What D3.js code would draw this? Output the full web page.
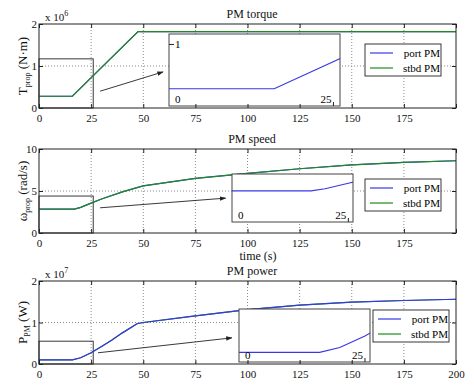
<!DOCTYPE html>
<html>
<head>
<meta charset="utf-8">
<script src="https://cdn.jsdelivr.net/npm/d3@7"></script>
<style>
  body { margin: 0; background: #fff; }
  svg, svg text { font-family: "Liberation Serif", "Times New Roman", serif; }
</style>
</head>
<body>
<svg id="chart" width="474" height="385"></svg>
<script>
// data (port and stbd curves coincide)
const seriesNames = ['port PM', 'stbd PM'];
const seriesColors = ['#3838e6', '#1f8a1f'];

const xTicks = [0, 25, 50, 75, 100, 125, 150, 175, 200];

const torqueTime = [0, 16, 47.5, 200];
const torque = [0.28, 0.28, 1.82, 1.82];          // x 10^6 N·m
const torqueTicks = [0, 1, 2];

const speedTime = [0, 17, 20, 25, 30, 40, 47, 50, 75, 100, 125, 150, 175, 200];
const speed = [2.85, 2.85, 3.05, 3.55, 4.05, 4.9, 5.4, 5.6, 6.5, 7.1, 7.65, 8.1, 8.4, 8.6]; // rad/s
const speedTicks = [0, 5, 10];

const powerTime = [0, 16, 20, 25, 30, 35, 40, 47, 50, 75, 100, 125, 150, 175, 200];
const power = [0.1, 0.1, 0.15, 0.27, 0.42, 0.58, 0.75, 0.97, 1.0, 1.16, 1.31, 1.42, 1.49, 1.53, 1.56]; // x 10^7 W
const powerTicks = [0, 1, 2];

const svg = d3.select('#chart');
const left = 39, right = 456;
const x = d3.scaleLinear().domain([0, 200]).range([left, right]);
const serif = '"Liberation Serif", "Times New Roman", serif';

const panels = [
    { title: 'PM torque', top: 24, bottom: 108, t: torqueTime, v: torque, yMax: 2, yTicks: torqueTicks,
      grid: [1], exp: '6', label: ['T', 'prop', ' (N·m)'], zoomTop: 1.17, insetTick: 1,
      inset: [169, 34, 340, 106], legend: [365, 44], arrow: [[29.3, 0.4], [59.5, 0.86]],
      front: 1, last200: false },
    { title: 'PM speed', top: 149, bottom: 233, t: speedTime, v: speed, yMax: 10, yTicks: speedTicks,
      grid: [5], exp: null, label: ['ω', 'prop', ' (rad/s)'], zoomTop: 4.4, insetTick: null,
      inset: [232, 174, 353, 222], legend: [365, 179], arrow: [[29.3, 3.0], [89.5, 4.15]],
      front: 1, last200: false },
    { title: 'PM power', top: 281, bottom: 364, t: powerTime, v: power, yMax: 2, yTicks: powerTicks,
      grid: [1], exp: '7', label: ['P', 'PM', ' (W)'], zoomTop: 0.55, insetTick: null,
      inset: [239, 309, 370, 362], legend: [373, 310], arrow: [[28.3, 0.27], [92.5, 0.63]],
      front: 0, last200: true }
];

const defs = svg.append('defs');
defs.append('marker')
    .attr('id', 'arrow')
    .attr('viewBox', '0 0 10 10')
    .attr('refX', 9).attr('refY', 5)
    .attr('markerWidth', 7).attr('markerHeight', 7)
    .attr('orient', 'auto')
    .append('path').attr('d', 'M0,1.5L10,5L0,8.5Z').attr('fill', '#222');

panels.forEach((p, i) => {
    const g = svg.append('g');
    const y = d3.scaleLinear().domain([0, p.yMax]).range([p.bottom, p.top]);
    const pts = p.t.map((t, k) => [t, p.v[k]]);

    // grid
    g.selectAll('.gx').data(xTicks.filter(d => d > 0 && d < 200)).enter().append('line')
        .attr('x1', d => x(d)).attr('x2', d => x(d))
        .attr('y1', p.top).attr('y2', p.bottom)
        .attr('stroke', '#8a8a8a').attr('stroke-dasharray', '1,2');
    g.selectAll('.gy').data(p.grid).enter().append('line')
        .attr('x1', left).attr('x2', right)
        .attr('y1', d => y(d)).attr('y2', d => y(d))
        .attr('stroke', '#8a8a8a').attr('stroke-dasharray', '1,2');

    // zoom window
    g.append('rect')
        .attr('x', x(0)).attr('y', y(p.zoomTop))
        .attr('width', x(26) - x(0)).attr('height', y(0) - y(p.zoomTop))
        .attr('fill', 'none').attr('stroke', '#222').attr('stroke-width', 0.9);

    // curves
    const line = d3.line().x(d => x(d[0])).y(d => y(d[1]));
    const order = p.front === 1 ? [0, 1] : [1, 0];
    order.forEach(s => {
        g.append('path').datum(pts)
            .attr('d', line).attr('fill', 'none')
            .attr('stroke', seriesColors[s]).attr('stroke-width', 1.2);
    });

    // arrow
    g.append('line')
        .attr('x1', x(p.arrow[0][0])).attr('y1', y(p.arrow[0][1]))
        .attr('x2', x(p.arrow[1][0])).attr('y2', y(p.arrow[1][1]))
        .attr('stroke', '#222').attr('stroke-width', 0.9)
        .attr('marker-end', 'url(#arrow)');

    // inset
    const [ix0, iy0, ix1, iy1] = p.inset;
    const ixs = d3.scaleLinear().domain([0, 26]).range([ix0, ix1]);
    const iys = d3.scaleLinear().domain([0, p.zoomTop]).range([iy1, iy0]);
    defs.append('clipPath').attr('id', 'clip' + i)
        .append('rect').attr('x', ix0).attr('y', iy0).attr('width', ix1 - ix0).attr('height', iy1 - iy0);
    g.append('rect').attr('x', ix0).attr('y', iy0).attr('width', ix1 - ix0).attr('height', iy1 - iy0)
        .attr('fill', '#fff');
    g.append('path').datum(pts)
        .attr('clip-path', 'url(#clip' + i + ')')
        .attr('d', d3.line().x(d => ixs(d[0])).y(d => iys(d[1])))
        .attr('fill', 'none').attr('stroke', seriesColors[0]).attr('stroke-width', 1.2);
    g.append('rect').attr('x', ix0).attr('y', iy0).attr('width', ix1 - ix0).attr('height', iy1 - iy0)
        .attr('fill', 'none').attr('stroke', '#444').attr('stroke-width', 1);
    g.append('text').attr('x', ix0 + 6).attr('y', iy1 - 3).attr('font-size', 11).text('0');
    g.append('text').attr('x', ixs(25) - 2).attr('y', iy1 - 3).attr('font-size', 11)
        .attr('text-anchor', 'end').text('25');
    g.append('line').attr('x1', ixs(25)).attr('x2', ixs(25)).attr('y1', iy1).attr('y2', iy1 - 4)
        .attr('stroke', '#222');
    if (p.insetTick !== null) {
        g.append('line').attr('x1', ix0).attr('x2', ix0 + 5)
            .attr('y1', iys(p.insetTick)).attr('y2', iys(p.insetTick)).attr('stroke', '#222');
        g.append('text').attr('x', ix0 + 6).attr('y', iys(p.insetTick) + 4)
            .attr('font-size', 11).text(p.insetTick);
    }

    // legend
    const [lx, ly] = p.legend;
    g.append('rect').attr('x', lx).attr('y', ly).attr('width', 76).attr('height', 32)
        .attr('fill', '#fff').attr('stroke', '#222').attr('stroke-width', 0.9);
    seriesNames.forEach((name, s) => {
        const yy = ly + 9 + s * 15;
        g.append('line').attr('x1', lx + 5).attr('x2', lx + 28).attr('y1', yy).attr('y2', yy)
            .attr('stroke', seriesColors[s]).attr('stroke-width', 1.2);
        g.append('text').attr('x', lx + 75).attr('y', yy + 4).attr('font-size', 11)
            .attr('text-anchor', 'end').text(name);
    });

    // axes box and ticks
    g.append('rect').attr('x', left).attr('y', p.top).attr('width', right - left).attr('height', p.bottom - p.top)
        .attr('fill', 'none').attr('stroke', '#222').attr('stroke-width', 1);
    const fmt = d3.format('d');
    const bottomAxis = d3.axisBottom(x).tickValues(xTicks).tickSize(-4).tickPadding(6)
        .tickFormat(d => (d === 200 && !p.last200) ? '' : fmt(d));
    const ga = g.append('g').attr('transform', `translate(0,${p.bottom})`).call(bottomAxis);
    const topAxis = d3.axisTop(x).tickValues(xTicks).tickSize(-4).tickFormat('');
    const gt = g.append('g').attr('transform', `translate(0,${p.top})`).call(topAxis);
    const leftAxis = d3.axisLeft(y).tickValues(p.yTicks).tickSize(-4).tickPadding(2).tickFormat(fmt);
    const gl = g.append('g').attr('transform', `translate(${left},0)`).call(leftAxis);
    const rightAxis = d3.axisRight(y).tickValues(p.yTicks).tickSize(-4).tickFormat('');
    const gr = g.append('g').attr('transform', `translate(${right},0)`).call(rightAxis);
    [ga, gt, gl, gr].forEach(a => {
        a.attr('font-family', serif).attr('font-size', 11);
        a.select('.domain').remove();
        a.selectAll('line').attr('stroke', '#222');
        a.selectAll('text').attr('fill', '#111');
    });

    // title
    g.append('text').attr('x', 252).attr('y', p.top - 6).attr('text-anchor', 'middle')
        .attr('font-size', 12).attr('fill', '#111').text(p.title);

    // exponent
    if (p.exp) {
        const e = g.append('text').attr('x', 45).attr('y', p.top - 3).attr('font-size', 11).attr('fill', '#111');
        e.append('tspan').text('x 10');
        e.append('tspan').attr('dy', -5).attr('font-size', 8).text(p.exp);
    }

    // y label
    const cy = (p.top + p.bottom) / 2;
    const lab = g.append('text').attr('transform', `translate(27,${cy}) rotate(-90)`)
        .attr('text-anchor', 'middle').attr('font-size', 13).attr('fill', '#111');
    lab.append('tspan').text(p.label[0]);
    lab.append('tspan').attr('dy', 3).attr('font-size', 8).text(p.label[1]);
    lab.append('tspan').attr('dy', -3).text(p.label[2]);
});

svg.append('text').attr('x', 258).attr('y', 260).attr('text-anchor', 'middle')
    .attr('font-size', 12).attr('fill', '#111').text('time (s)');
</script>
</body>
</html>
